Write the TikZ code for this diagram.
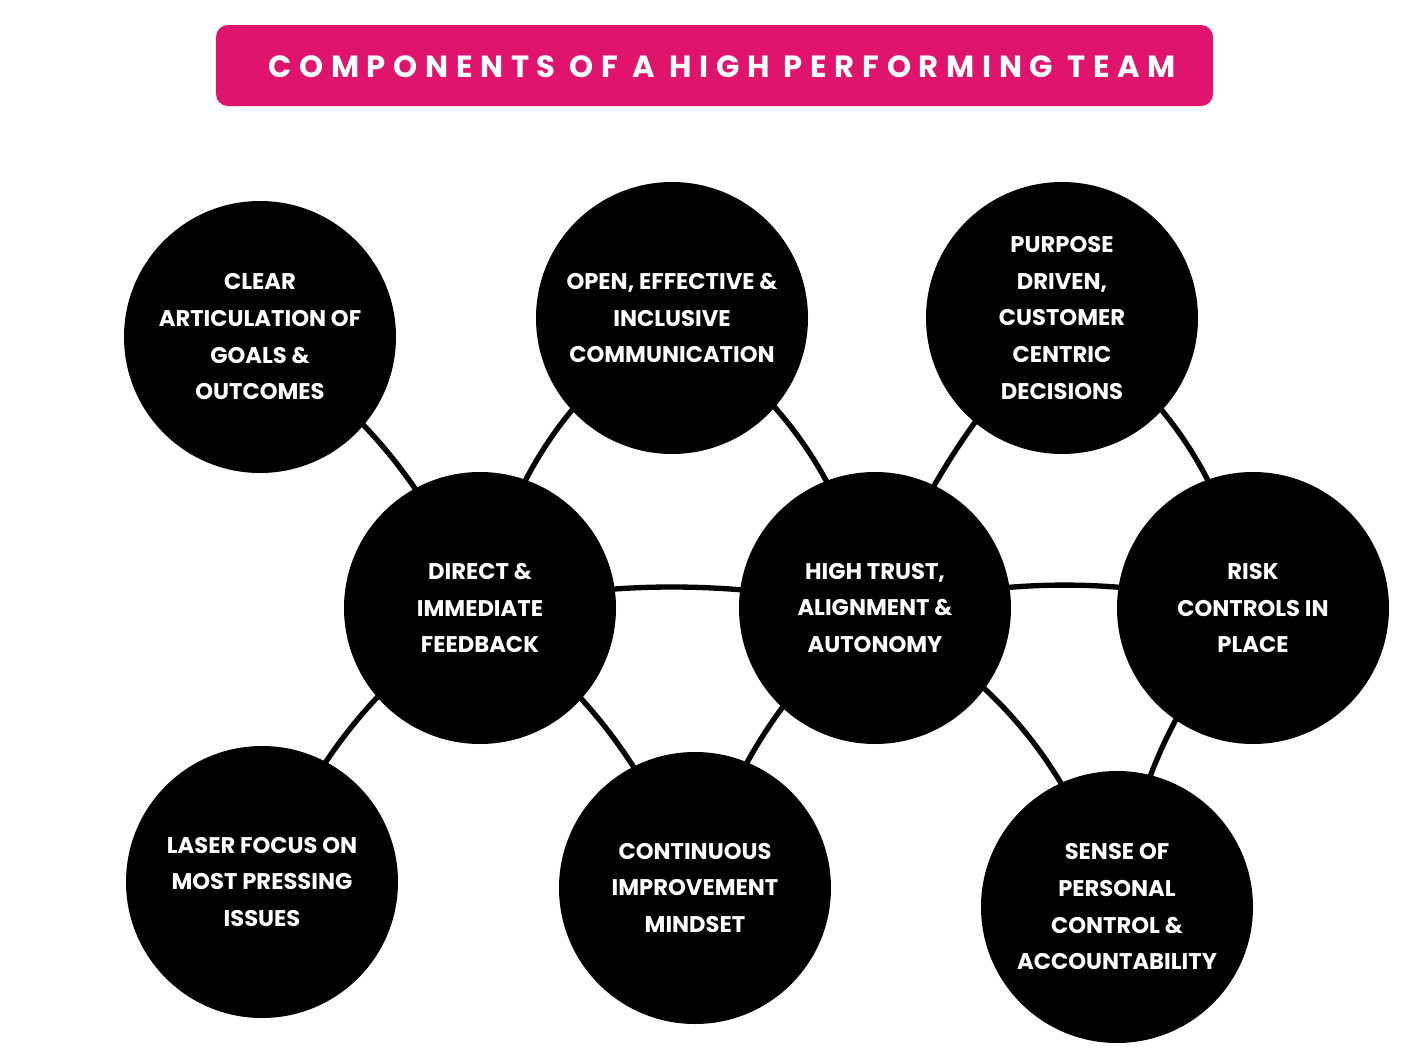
\documentclass[tikz,border=0pt]{standalone}
\usepackage{fontspec}
\setmainfont{Poppins}
\newfontfamily\titlefont[LetterSpace=25]{Poppins}
\begin{document}
\begin{tikzpicture}[x=0.75pt,y=-0.75pt,
  bub/.style={circle,fill=black,minimum size=204pt,inner sep=0pt,text=white,align=center,font=\fontsize{17}{27.5}\selectfont\bfseries},
  link/.style={line width=4pt,black}]
\useasboundingbox (0,0) rectangle (1422,1060);
\fill[white] (0,0) rectangle (1422,1060);
\fill[rounded corners=9pt,fill={rgb,255:red,224;green,20;blue,108}] (216,25) rectangle (1213,106);
\node[text=white,font=\titlefont\fontsize{23}{26}\selectfont\bfseries] (title) at (722,67) {COMPONENTS OF A HIGH PERFORMING TEAM};
\coordinate (c1) at (260,337);
\coordinate (c2) at (672,318);
\coordinate (c3) at (1062,318);
\coordinate (c4) at (480,608);
\coordinate (c5) at (875,608);
\coordinate (c6) at (1253,608);
\coordinate (c7) at (262,882);
\coordinate (c8) at (695,888);
\coordinate (c9) at (1117,907);
\draw[link] (c1) to[bend left=15] (c4);
\draw[link] (c4) to[bend left=20] (c2);
\draw[link] (c2) to[bend left=20] (c5);
\draw[link] (c5) to[bend left=10] (c3);
\draw[link] (c3) to[bend left=20] (c6);
\draw[link] (c4) .. controls (620,580) and (720,580) .. (c5);
\draw[link] (c5) .. controls (1010,580) and (1100,575) .. (c6);
\draw[link] (c4) to[bend right=15] (c7);
\draw[link] (c4) to[bend left=15] (c8);
\draw[link] (c8) to[bend left=15] (c5);
\draw[link] (c5) to[bend left=20] (c9);
\draw[link] (c9) to[bend left=15] (c6);
\node[bub] (n1) at (c1) {CLEAR\\ARTICULATION OF\\GOALS \&\\OUTCOMES};
\node[bub] (n2) at (c2) {OPEN, EFFECTIVE \&\\INCLUSIVE\\COMMUNICATION};
\node[bub] (n3) at (c3) {PURPOSE\\DRIVEN,\\CUSTOMER\\CENTRIC\\DECISIONS};
\node[bub] (n4) at (c4) {DIRECT \&\\IMMEDIATE\\FEEDBACK};
\node[bub] (n5) at (c5) {HIGH TRUST,\\ALIGNMENT \&\\AUTONOMY};
\node[bub] (n6) at (c6) {RISK\\CONTROLS IN\\PLACE};
\node[bub] (n7) at (c7) {LASER FOCUS ON\\MOST PRESSING\\ISSUES};
\node[bub] (n8) at (c8) {CONTINUOUS\\IMPROVEMENT\\MINDSET};
\node[bub] (n9) at (c9) {SENSE OF\\PERSONAL\\CONTROL \&\\ACCOUNTABILITY};
\end{tikzpicture}
\end{document}
